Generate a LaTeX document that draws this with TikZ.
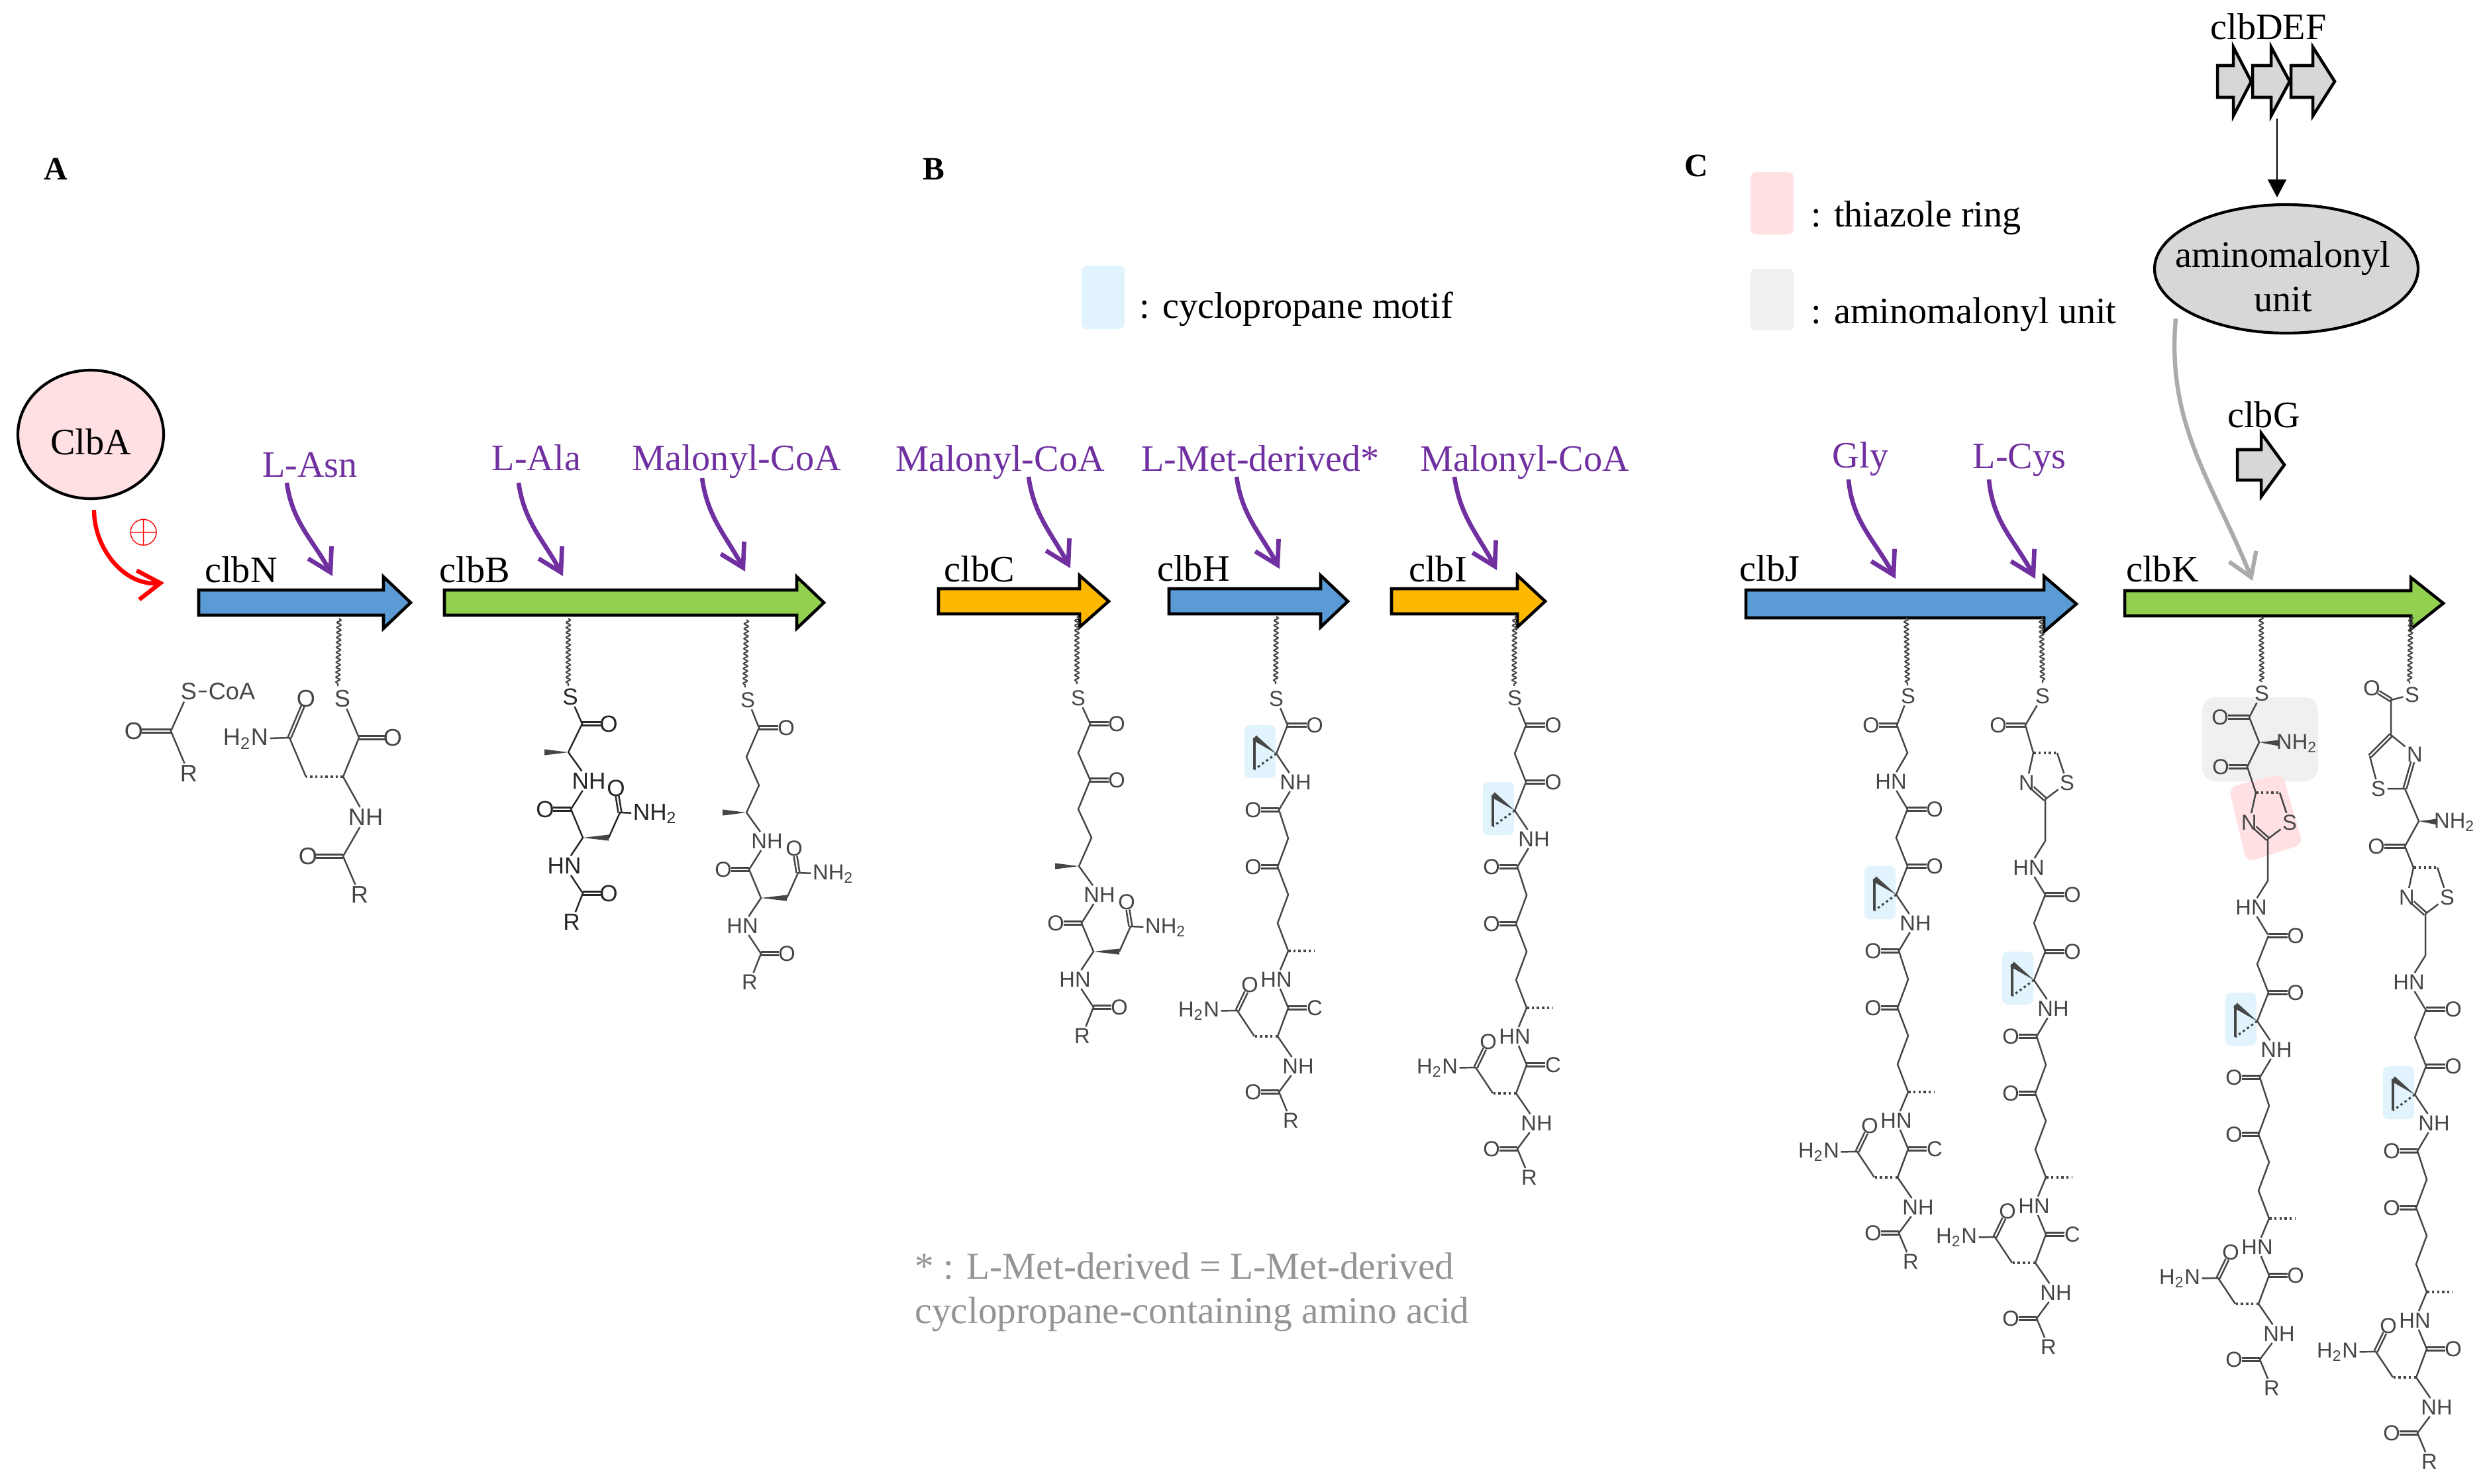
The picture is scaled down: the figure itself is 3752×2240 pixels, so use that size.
\documentclass[tikz,border=0pt]{standalone}
\usepackage{fontspec}
\usepackage{amsmath}
\usepackage{xcolor}
\usepackage{tikz}
\usetikzlibrary{positioning, calc, arrows.meta, shapes.geometric, decorations.pathmorphing}
\setmainfont{Liberation Serif}
\newfontfamily\chemfamily{Liberation Sans}

\definecolor{genblue}{RGB}{91,155,213}
\definecolor{gengreen}{RGB}{146,208,80}
\definecolor{genyellow}{RGB}{255,184,0}
\definecolor{subpurple}{RGB}{112,48,160}
\definecolor{cpblue}{RGB}{225,243,252}
\definecolor{thzpink}{RGB}{255,225,228}
\definecolor{malgray}{RGB}{240,240,240}
\definecolor{unitgray}{RGB}{215,215,215}
\definecolor{chemgray}{RGB}{70,70,70}

\tikzset{
  lab/.style = {font = \fontsize{16}{19}\selectfont, inner sep = 0pt, align = center},
  sublab/.style = {lab, text = subpurple},
  panel/.style = {font = \fontsize{14}{17}\selectfont\bfseries, inner sep = 0pt},
  generow/.style = {draw = black, line width = 1.3pt, line join = miter},
  subarrow/.style = {draw = subpurple, line width = 1.9pt, -{Straight Barb[length = 3.4mm, width = 4mm]}},
  atom/.style = {font = \fontsize{9.3}{11}\selectfont\chemfamily, text = chemgray, inner sep = 0.2mm},
  bond/.style = {draw = chemgray, line width = 0.7pt},
  hash/.style = {draw = chemgray, line width = 0.9pt, dash pattern = on 1pt off 1.2pt},
  wavy/.style = {draw = chemgray, line width = 0.6pt, decorate, decoration = {snake, segment length = 0.75mm, amplitude = 0.3mm}},
  tint/.style = {rounded corners = 0.8mm}
}

% double bond, second end shortened for the atom letter
\newcommand{\dbl}[3][3.4pt]{
  \draw [bond, shorten > = #1] ($(#2)!0.7pt!90:(#3)$) -- ($(#3)!0.7pt!-90:(#2)$);
  \draw [bond, shorten > = #1] ($(#2)!0.7pt!-90:(#3)$) -- ($(#3)!0.7pt!90:(#2)$);
}
\newcommand{\wedgebond}[2]{
  \fill [chemgray] (#1) -- ($(#2)!1.3pt!90:(#1)$) -- ($(#2)!1.3pt!-90:(#1)$) -- cycle;
}
% x start, x neck, x tip, y centre, half body, half head, colour
\newcommand{\genearrow}[7]{
  \draw [generow, fill = #7] (#1, #4 - #5) -- (#2, #4 - #5) -- (#2, #4 - #6) -- (#3, #4)
    -- (#2, #4 + #6) -- (#2, #4 + #5) -- (#1, #4 + #5) -- cycle;
}
% carbonyl, CH2, bond down to the next carbon
\newcommand{\malonyl}[2]{
  \begin{scope}[shift = {(#1, #2)}]
  \coordinate (mtop) at (0, 0);
  \node [atom] (mo) at (41, 0) {O};
  \coordinate (mch) at (-17, 43);
  \coordinate (mnext) at (0, 86);
  \dbl{mtop}{mo}
  \draw [bond] (mtop) -- (mch) -- (mnext);
  \end{scope}
}
% ring on a CH, ends in the CH2-NH above the next carbonyl
\newcommand{\thiazoline}[2]{
  \begin{scope}[shift = {(#1, #2)}]
  \coordinate (tch) at (0, 0);
  \coordinate (tcs) at (36, 0);
  \node [atom] (tn) at (-10, 45) {N};
  \node [atom] (ts) at (51, 45) {S};
  \coordinate (tc) at (18, 70);
  \coordinate (tm) at (18, 133);
  \node [atom] (thn) at (-7, 173) {HN};
  \coordinate (tnext) at (18, 214);
  \draw [hash] (tch) -- (tcs);
  \draw [bond] (tch) -- (tn);
  \draw [bond] (tcs) -- (ts) -- (tc);
  \dbl{tc}{tn}
  \draw [bond] (tc) -- (tm) -- (thn) -- (tnext);
  \end{scope}
}
% amide tail on the methyl CH, wedged form
\newcommand{\wedgetail}[2]{
  \begin{scope}[shift = {(#1, #2)}]
  \coordinate (ch) at (0, 0);
  \coordinate (me) at (-36, 0);
  \node [atom] (n1) at (31, 43) {NH};
  \coordinate (c1) at (4, 86);
  \node [atom] (o1) at (-35, 86) {O};
  \coordinate (c2) at (22, 129);
  \coordinate (c3) at (61, 129);
  \coordinate (c4) at (78, 91);
  \node [atom] (o4) at (72, 54) {O};
  \node [atom] (n4) at (131, 93) {NH\textsubscript{2}};
  \node [atom] (n2) at (-6, 171) {HN};
  \coordinate (c5) at (22, 213);
  \node [atom] (o5) at (61, 213) {O};
  \node [atom] (r1) at (5, 256) {R};
  \wedgebond{ch}{me}
  \wedgebond{c2}{c3}
  \draw [bond] (ch) -- (n1) -- (c1) -- (c2) -- (n2) -- (c5) -- (r1);
  \draw [bond] (c3) -- (c4) -- (n4);
  \dbl{c1}{o1}
  \dbl{c4}{o4}
  \dbl{c5}{o5}
  \end{scope}
}
% carbonyl next to the cyclopropane down to R, last argument is the printed letter
\newcommand{\cpchain}[3]{
  \begin{scope}[shift = {(#1, #2)}]
  \fill [cpblue, tint] (-65, 0) rectangle (-18, 80);
  \coordinate (c0) at (0, 0);
  \node [atom] (o0) at (41, 0) {O};
  \coordinate (cp) at (-17, 43);
  \coordinate (cpa) at (-50, 19);
  \coordinate (cpb) at (-50, 67);
  \node [atom] (n1) at (12, 86) {NH};
  \coordinate (c1) at (-13, 128);
  \node [atom] (o1) at (-52, 128) {O};
  \coordinate (c2) at (1, 171);
  \coordinate (c3) at (-15, 214);
  \node [atom] (o3) at (-52, 214) {O};
  \coordinate (c4) at (1, 256);
  \coordinate (c5) at (-15, 299);
  \coordinate (c6) at (1, 341);
  \coordinate (me) at (40, 341);
  \node [atom] (n2) at (-17, 384) {HN};
  \coordinate (c7) at (1, 427);
  \node [atom] (o7) at (41, 427) {#3};
  \coordinate (c8) at (-15, 470);
  \coordinate (c9) at (-50, 470);
  \coordinate (c10) at (-76, 431);
  \node [atom] (o10) at (-57, 392) {O};
  \node [atom] (n10) at (-134, 432) {H\textsubscript{2}N};
  \node [atom] (n3) at (16, 515) {NH};
  \coordinate (c11) at (-13, 554);
  \node [atom] (o11) at (-52, 554) {O};
  \node [atom] (r1) at (5, 597) {R};
  \wedgebond{cp}{cpa}
  \draw [bond, line width = 1pt] (cpa) -- (cpb);
  \draw [hash] (cp) -- (cpb);
  \draw [bond] (c0) -- (cp) -- (n1) -- (c1) -- (c2) -- (c3) -- (c4) -- (c5) -- (c6) -- (n2) -- (c7) -- (c8) -- (n3) -- (c11) -- (r1);
  \draw [hash] (c6) -- (me);
  \draw [hash] (c8) -- (c9);
  \draw [bond] (c9) -- (c10) -- (n10);
  \dbl{c0}{o0}
  \dbl{c1}{o1}
  \dbl{c3}{o3}
  \dbl{c7}{o7}
  \dbl{c10}{o10}
  \dbl{c11}{o11}
  \end{scope}
}

\begin{document}
\begin{tikzpicture}[x = 0.1mm, y = -0.1mm]
\useasboundingbox (0, 0) rectangle (3752, 2240);

% panel letters and legends
\node [panel] (panelA) at (84, 255) {A};
\node [panel] (panelB) at (1410, 255) {B};
\node [panel] (panelC) at (2561, 250) {C};
\fill [cpblue, tint] (1633, 401) rectangle (1698, 497);
\node [lab, anchor = west] (legcp) at (1720, 467) {: cyclopropane motif};
\fill [thzpink, tint] (2643, 260) rectangle (2708, 354);
\node [lab, anchor = west] (legthz) at (2734, 329) {: thiazole ring};
\fill [malgray, tint] (2643, 406) rectangle (2708, 499);
\node [lab, anchor = west] (legmal) at (2734, 475) {: aminomalonyl unit};
\node [lab, anchor = west, align = left, text = black!42, font = \fontsize{16.3}{19}\selectfont] (legmet) at (1381, 1951)
  {* : L-Met-derived = L-Met-derived\\cyclopropane-containing amino acid};

% activation by ClbA
\node [ellipse, draw = black, line width = 1.2pt, fill = thzpink, minimum width = 22mm, minimum height = 19.4mm, inner sep = 0pt] (clbA) at (137, 656) {};
\node [lab] (clbAlab) at (137, 667) {ClbA};
\coordinate (redstart) at (142, 770);
\coordinate (redend) at (248, 880);
\draw [red, line width = 1.8pt, -{Straight Barb[length = 3.4mm, width = 4.4mm]}] (redstart) to [out = -90, in = 185] (redend);
\node [red, inner sep = 0pt, font = \fontsize{18}{20}\selectfont] (plus) at (217, 804) {$\oplus$};

% genes
\genearrow{300}{579}{620}{910}{19}{39}{genblue}
\node [lab] (clbN) at (364, 860) {clbN};
\genearrow{671}{1203}{1244}{910}{19}{39}{gengreen}
\node [lab] (clbB) at (717, 860) {clbB};
\genearrow{1417}{1630}{1674}{908}{19}{39}{genyellow}
\node [lab] (clbC) at (1479, 859) {clbC};
\genearrow{1765}{1994}{2035}{908}{19}{39}{genblue}
\node [lab] (clbH) at (1802, 858) {clbH};
\genearrow{2101}{2291}{2333}{908}{19}{39}{genyellow}
\node [lab] (clbI) at (2171, 859) {clbI};
\genearrow{2636}{3086}{3135}{912}{21}{42}{genblue}
\node [lab] (clbJ) at (2672, 858) {clbJ};
\genearrow{3208}{3640}{3689}{911}{19}{39}{gengreen}
\node [lab] (clbK) at (3265, 859) {clbK};

% substrates
\node [sublab] (asn) at (468, 702) {L-Asn};
\coordinate (asnend) at (502, 870);
\draw [subarrow] (433, 729) to [out = -82, in = 118] (asnend);
\node [sublab] (ala) at (810, 691) {L-Ala};
\coordinate (alaend) at (850, 870);
\draw [subarrow] (783, 729) to [out = -82, in = 118] (alaend);
\node [sublab] (malB) at (1112, 697) {Malonyl-CoA};
\coordinate (malBend) at (1125, 863);
\draw [subarrow] (1060, 722) to [out = -82, in = 118] (malBend);
\node [sublab] (malC) at (1510, 698) {Malonyl-CoA};
\coordinate (malCend) at (1616, 858);
\draw [subarrow] (1553, 720) to [out = -82, in = 118] (malCend);
\node [sublab] (met) at (1903, 692) {L-Met-derived*};
\coordinate (metend) at (1932, 859);
\draw [subarrow] (1867, 720) to [out = -82, in = 118] (metend);
\node [sublab] (malI) at (2302, 698) {Malonyl-CoA};
\coordinate (malIend) at (2260, 861);
\draw [subarrow] (2196, 720) to [out = -82, in = 118] (malIend);
\node [sublab] (gly) at (2809, 693) {Gly};
\coordinate (glyend) at (2862, 874);
\draw [subarrow] (2791, 724) to [out = -85, in = 118] (glyend);
\node [sublab] (cys) at (3049, 695) {L-Cys};
\coordinate (cysend) at (3073, 874);
\draw [subarrow] (3003, 724) to [out = -85, in = 118] (cysend);

% aminomalonyl branch
\node [lab] (clbDEF) at (3425, 40) {clbDEF};
\genearrow{3348}{3372}{3399}{123}{24}{52}{unitgray}
\genearrow{3401}{3429}{3457}{123}{24}{52}{unitgray}
\genearrow{3459}{3492}{3525}{123}{24}{52}{unitgray}
\node [ellipse, draw = black, line width = 1.2pt, fill = unitgray, minimum width = 39.8mm, minimum height = 19.4mm, inner sep = 0pt] (unit) at (3452, 406) {};
\node [lab] (unitlab) at (3447, 418) {aminomalonyl\\unit};
\coordinate (defend) at (3438, 179);
\coordinate (unittop) at (3438, 298);
\draw [black, line width = 0.7pt, -{Triangle[length = 2.7mm, width = 2.8mm]}] (defend) -- (unittop);
\node [lab] (clbG) at (3418, 626) {clbG};
\genearrow{3378}{3414}{3449}{702}{23}{48}{unitgray}
\coordinate (graystart) at (3285, 481);
\coordinate (grayend) at (3401, 877);
\draw [black!33, line width = 1.8pt, -{Straight Barb[length = 3.4mm, width = 4.4mm]}] (graystart) to [out = -95, in = 112] (grayend);

% clbN
\begin{scope}[atom/.append style = {font = \fontsize{10.3}{12}\selectfont\chemfamily}]
\coordinate (wN) at (512, 934);
\coordinate (wNe) at (510, 1036);
\draw [wavy] (wN) -- (wNe);
\node [atom] (coaS) at (285, 1044) {S};
\node [atom] (coa) at (350, 1044) {CoA};
\coordinate (coaC) at (258, 1104);
\node [atom] (coaO) at (202, 1104) {O};
\node [atom] (coaR) at (285, 1168) {R};
\draw [bond] (coa) -- (coaS) -- (coaC) -- (coaR);
\dbl{coaC}{coaO}
\node [atom] (nS) at (517, 1055) {S};
\coordinate (nC) at (542, 1114);
\node [atom] (nO) at (593, 1114) {O};
\coordinate (nCH) at (518, 1173);
\coordinate (nCm) at (462, 1173);
\coordinate (nCa) at (437, 1114);
\node [atom] (nOa) at (462, 1055) {O};
\node [atom] (nNa) at (371, 1116) {H\textsubscript{2}N};
\node [atom] (nNH) at (552, 1234) {NH};
\coordinate (nCb) at (518, 1293);
\node [atom] (nOb) at (465, 1293) {O};
\node [atom] (nR) at (543, 1351) {R};
\draw [bond] (nS) -- (nC) -- (nCH) -- (nNH) -- (nCb) -- (nR);
\draw [hash] (nCH) -- (nCm);
\draw [bond] (nCm) -- (nCa) -- (nNa);
\dbl{nC}{nO}
\dbl{nCa}{nOa}
\dbl{nCb}{nOb}
\end{scope}

% clbB
\begin{scope}[atom/.append style = {text = black!85, font = \fontsize{10}{12}\selectfont\chemfamily}, bond/.append style = {draw = black!85}]
\coordinate (wB) at (858, 934);
\coordinate (wBe) at (858, 1036);
\draw [wavy] (wB) -- (wBe);
\node [atom] (bS) at (861, 1052) {S};
\coordinate (bC) at (879, 1093);
\node [atom] (bO) at (919, 1093) {O};
\draw [bond] (bS) -- (bC) -- (858, 1136);
\dbl{bC}{bO}
\wedgetail{858}{1136}
\end{scope}
\coordinate (wB2) at (1127, 936);
\coordinate (wB2e) at (1125, 1038);
\draw [wavy] (wB2) -- (wB2e);
\node [atom] (b2S) at (1129, 1057) {S};
\coordinate (b2C) at (1146, 1099);
\node [atom] (b2O) at (1187, 1099) {O};
\coordinate (b2a) at (1127, 1143);
\coordinate (b2b) at (1146, 1186);
\coordinate (b2c) at (1127, 1227);
\draw [bond] (b2S) -- (b2C) -- (b2a) -- (b2b) -- (b2c);
\dbl{b2C}{b2O}
\wedgetail{1127}{1227}

% clbC
\coordinate (wC) at (1626, 931);
\coordinate (wCe) at (1626, 1033);
\draw [wavy] (wC) -- (wCe);
\node [atom] (cS) at (1628, 1054) {S};
\coordinate (cC) at (1646, 1093);
\node [atom] (cO) at (1686, 1093) {O};
\coordinate (ca) at (1628, 1137);
\coordinate (cb) at (1646, 1178);
\node [atom] (cOb) at (1686, 1178) {O};
\coordinate (cc) at (1628, 1222);
\coordinate (cd) at (1648, 1265);
\coordinate (ce) at (1629, 1308);
\draw [bond] (cS) -- (cC) -- (ca) -- (cb) -- (cc) -- (cd) -- (ce);
\dbl{cC}{cO}
\dbl{cb}{cOb}
\wedgetail{1629}{1308}

% clbH
\coordinate (wH) at (1927, 931);
\coordinate (wHe) at (1926, 1033);
\draw [wavy] (wH) -- (wHe);
\node [atom] (hS) at (1927, 1055) {S};
\draw [bond] (hS) -- (1944, 1095);
\cpchain{1944}{1095}{C}

% clbI
\coordinate (wI) at (2287, 931);
\coordinate (wIe) at (2286, 1036);
\draw [wavy] (wI) -- (wIe);
\node [atom] (iS) at (2287, 1054) {S};
\draw [bond] (iS) -- (2304, 1095);
\malonyl{2304}{1095}
\cpchain{2304}{1181}{C}

% clbJ
\coordinate (wJ) at (2878, 933);
\coordinate (wJe) at (2880, 1035);
\draw [wavy] (wJ) -- (wJe);
\node [atom] (jS) at (2881, 1051) {S};
\coordinate (jC) at (2864, 1095);
\node [atom] (jO) at (2825, 1095) {O};
\coordinate (ja) at (2880, 1137);
\node [atom] (jN) at (2855, 1180) {HN};
\draw [bond] (jS) -- (jC) -- (ja) -- (jN) -- (2880, 1222);
\dbl{jC}{jO}
\malonyl{2880}{1222}
\cpchain{2880}{1308}{C}

\coordinate (wL) at (3082, 933);
\coordinate (wLe) at (3084, 1031);
\draw [wavy] (wL) -- (wLe);
\node [atom] (lS) at (3084, 1051) {S};
\coordinate (lC) at (3058, 1095);
\node [atom] (lO) at (3017, 1095) {O};
\draw [bond] (lS) -- (lC) -- (3070, 1137);
\dbl{lC}{lO}
\thiazoline{3070}{1137}
\malonyl{3088}{1351}
\cpchain{3088}{1437}{C}

% clbK
\coordinate (wK) at (3414, 931);
\coordinate (wKe) at (3415, 1030);
\draw [wavy] (wK) -- (wKe);
\fill [malgray, rounded corners = 2mm] (3325, 1053) rectangle (3500, 1180);
\fill [thzpink, rounded corners = 1.2mm] (3365, 1189) -- (3446, 1168) -- (3477, 1275) -- (3392, 1302) -- cycle;
\node [atom] (kS) at (3415, 1047) {S};
\coordinate (kC) at (3396, 1083);
\node [atom] (kO) at (3352, 1083) {O};
\coordinate (kCH) at (3411, 1121);
\coordinate (kw) at (3441, 1122);
\node [atom] (kN) at (3468, 1123) {NH\textsubscript{2}};
\coordinate (kCb) at (3393, 1158);
\node [atom] (kOb) at (3353, 1158) {O};
\draw [bond] (kS) -- (kC) -- (kCH) -- (kCb) -- (3406, 1197);
\wedgebond{kCH}{kw}
\dbl{kC}{kO}
\dbl{kCb}{kOb}
\thiazoline{3406}{1197}
\malonyl{3425}{1413}
\cpchain{3425}{1499}{O}

\coordinate (wM) at (3640, 931);
\coordinate (wMe) at (3638, 1032);
\draw [wavy] (wM) -- (wMe);
\node [atom] (mS) at (3642, 1049) {S};
\coordinate (mC) at (3610, 1057);
\node [atom] (mO) at (3581, 1039) {O};
\coordinate (ma) at (3610, 1110);
\node [atom] (mN) at (3646, 1139) {N};
\coordinate (mb) at (3631, 1191);
\node [atom] (mSb) at (3591, 1191) {S};
\coordinate (mc) at (3578, 1142);
\coordinate (md) at (3652, 1240);
\coordinate (mw) at (3680, 1241);
\node [atom] (mNb) at (3706, 1242) {NH\textsubscript{2}};
\coordinate (me2) at (3631, 1278);
\node [atom] (mOb) at (3588, 1278) {O};
\draw [bond] (mS) -- (mC) -- (ma) -- (mN);
\draw [bond] (mc) -- (mSb) -- (mb) -- (md) -- (me2) -- (3644, 1310);
\dbl{mC}{mO}
\dbl[0pt]{ma}{mc}
\dbl{mb}{mN}
\dbl{me2}{mOb}
\wedgebond{md}{mw}
\thiazoline{3644}{1310}
\malonyl{3663}{1524}
\cpchain{3663}{1610}{O}
\end{tikzpicture}
\end{document}
